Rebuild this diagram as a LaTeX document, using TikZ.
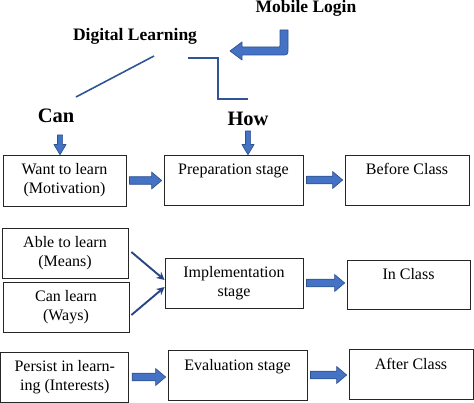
\documentclass[tikz,border=0pt]{standalone}
\usepackage{fontspec}
\setmainfont{Liberation Serif}
\usetikzlibrary{calc,arrows.meta}
\definecolor{bfill}{RGB}{68,114,196}
\definecolor{bdraw}{RGB}{47,82,143}
\definecolor{lineblue}{RGB}{47,85,151}
\definecolor{arrblue}{RGB}{40,70,132}
% horizontal block arrow from node #1 to node #2
\newcommand\barrowh[2]{\path[barrow] let \p1=($(#1.east)+(3,0)$), \p2=($(#2.west)+(-2,0)$) in
  (\x1,\y1+3.8pt) -- (\x2-10pt,\y1+3.8pt) -- (\x2-10pt,\y1+8.5pt) -- (\x2,\y1)
  -- (\x2-10pt,\y1-8.5pt) -- (\x2-10pt,\y1-3.8pt) -- (\x1,\y1-3.8pt) -- cycle;}
% vertical block arrow from coordinate #1 down to node #2
\newcommand\barrowv[2]{\path[barrow] let \p1=(#1), \p2=(#2.north) in
  (\x1-2.6pt,\y1) -- (\x1-2.6pt,\y2+10pt) -- (\x1-6pt,\y2+10pt) -- (\x1,\y2)
  -- (\x1+6pt,\y2+10pt) -- (\x1+2.6pt,\y2+10pt) -- (\x1+2.6pt,\y1) -- cycle;}
% single line raised into the upper half of a box
\newcommand\upline[1]{\raisebox{5pt}[0pt][0pt]{#1}}
\begin{document}
\begin{tikzpicture}[x=1pt,y=-1pt,
  box/.style={draw=black!85,line width=0.8pt,align=center,inner sep=0pt,fill=white,
    font=\fontsize{16}{19}\selectfont},
  barrow/.style={fill=bfill,draw=bdraw,line width=0.7pt,line join=round},
  titletext/.style={font=\bfseries\fontsize{17.5}{20}\selectfont,inner sep=0pt},
  bigtext/.style={font=\bfseries\fontsize{20.5}{24}\selectfont,inner sep=0pt},
  thinline/.style={draw=lineblue,line width=1.6pt},
  thinarrow/.style={draw=arrblue,line width=1.9pt,-{Stealth[length=8pt,width=8pt]}}]
\useasboundingbox (0,0) rectangle (474,403);

% headings
\node[titletext,anchor=base] (dl) at (135,40.5) {Digital Learning};
\node[titletext,anchor=base] (ml) at (306,12.5) {Mobile Login};
\node[bigtext,anchor=base] (can) at (56,122.7) {Can};
\node[bigtext,anchor=base] (how) at (248,125.5) {How};

% boxes
\node[box,minimum width=123pt,minimum height=51pt] (want) at (64.5,180.5) {Want to learn\\(Motivation)};
\node[box,minimum width=139pt,minimum height=50pt] (prep) at (233.5,180) {\upline{Preparation stage}};
\node[box,minimum width=124pt,minimum height=50pt] (before) at (407,180) {\upline{Before Class}};
\node[box,minimum width=126pt,minimum height=50pt] (able) at (65,253) {Able to learn\\(Means)};
\node[box,minimum width=126pt,minimum height=50pt] (canlearn) at (66,307) {Can learn\\(Ways)};
\node[box,minimum width=138pt,minimum height=50pt] (impl) at (234,283) {Implementation\\stage};
\node[box,minimum width=123pt,minimum height=49pt] (inclass) at (408.5,284.5) {\upline{In Class}};
\node[box,minimum width=128pt,minimum height=50pt] (persist) at (64.8,377) {Persist in learn-\\ing (Interests)};
\node[box,minimum width=139pt,minimum height=50pt] (eval) at (237.5,375) {\upline{Evaluation stage}};
\node[box,minimum width=124pt,minimum height=50pt] (after) at (411,374) {\upline{After Class}};

% lines from Digital Learning
\coordinate (dlA) at (154,56);
\coordinate (dlB) at (76,97);
\coordinate (dlC) at (188,58);
\coordinate (dlD) at (248,99);
\draw[thinline] (dlA) -- (dlB);
\draw[thinline,line join=miter] (dlC) -| ($(dlC)!0.5!(dlD)$) |- (dlD);

% Mobile Login bent arrow
\path[barrow] (280,30) -- (288,30) -- (288,48) .. controls (288,55) .. (281,55)
  -- (242,55) -- (242,60) -- (230,51) -- (242,42) -- (242,47) -- (278,47)
  .. controls (280,47) .. (280,45) -- cycle;

% down arrows
\coordinate (canarr) at (60,135);
\coordinate (howarr) at (248,131);
\barrowv{canarr}{want}
\barrowv{howarr}{prep}

% block arrows
\barrowh{want}{prep}
\barrowh{prep}{before}
\barrowh{impl}{inclass}
\barrowh{persist}{eval}
\barrowh{eval}{after}

% thin arrows
\draw[thinarrow] ($(able.east)+(3,-1)$) -- ($(impl.west)+(0,-3)$);
\draw[thinarrow] ($(canlearn.east)+(2,8)$) -- ($(impl.west)+(0,4)$);
\end{tikzpicture}
\end{document}
